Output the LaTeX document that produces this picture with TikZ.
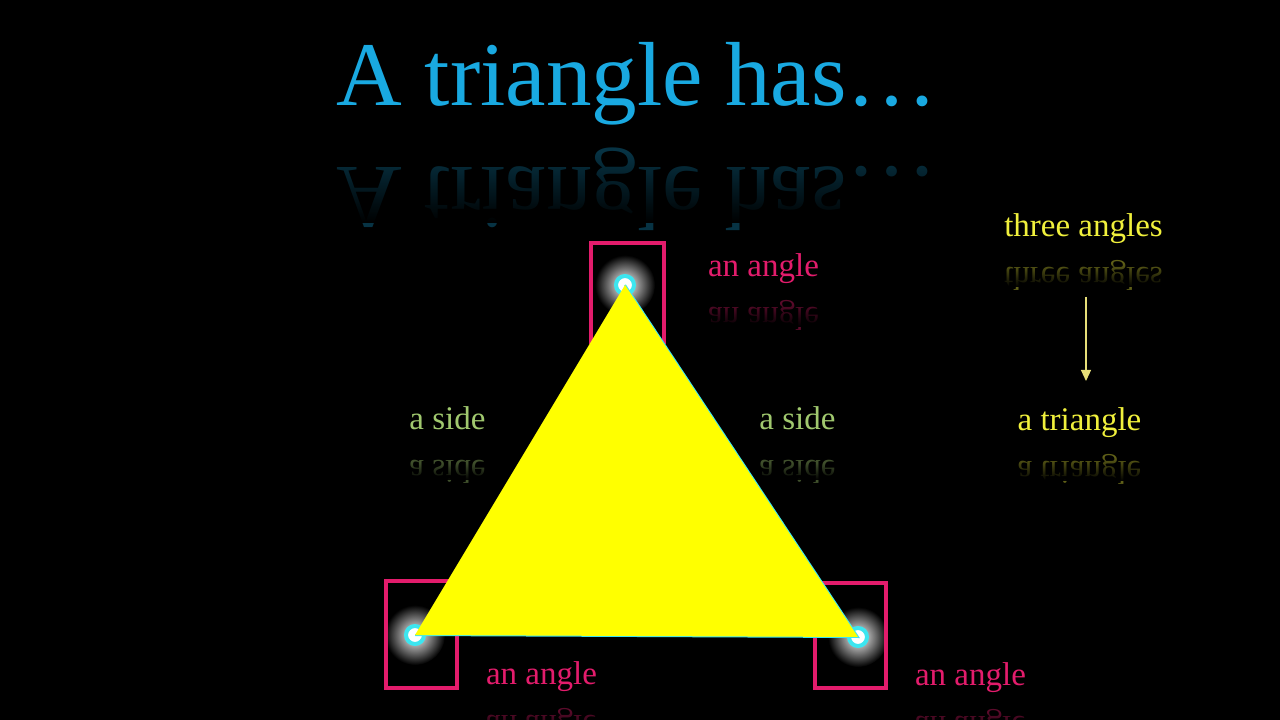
\documentclass[tikz,border=0pt]{standalone}
\usepackage{fontspec}
\setmainfont{Liberation Serif}
\usetikzlibrary{arrows.meta,calc,fadings}

\definecolor{titlecyan}{RGB}{25,169,225}
\definecolor{anglepink}{RGB}{227,28,108}
\definecolor{sidegreen}{RGB}{160,200,110}
\definecolor{wordyellow}{RGB}{240,240,60}
\definecolor{arrowyellow}{RGB}{230,222,120}
\definecolor{ringcyan}{RGB}{60,230,240}
\definecolor{fillyellow}{RGB}{255,255,0}

\tikzfading[name=reflfade, top color=transparent!100, bottom color=transparent!0]

\begin{document}
\begin{tikzpicture}
      [x = 1pt, y = 1pt,
      word/.style= {
         inner sep = 0pt,
         anchor = base,
         font = \fontsize{33}{33}\selectfont
      },
      mirror/.style= {
         word,
         yscale = -1
      },
      headline/.style= {
         inner sep = 0pt,
         anchor = base,
         font = \fontsize{91}{91}\selectfont
      },
      fadeout/.style= {
         fill = black,
         path fading = reflfade
      },
      box/.style= {
         draw = anglepink,
         line width = 4pt
      },
      dot/.style= {
         draw = ringcyan,
         fill = white,
         line width = 4pt
      },
      arrow/.style= {
         -{Triangle[width = 10pt, length = 11pt]},
         draw = arrowyellow,
         fill = wordyellow,
         line width = 1.2pt
      }]

      \useasboundingbox (0, 0) rectangle (1280, 720);
      \clip (0, 0) rectangle (1280, 720);
      \fill[black] (0, 0) rectangle (1280, 720);

      % title and its reflection
      \node[headline, text = titlecyan] (title) at (637, 614) {A triangle has\dots};
      \node[headline, yscale = -1, text = titlecyan!30!black] (titleR)
         at ($(title.base) + (0, -62)$) {A triangle has\dots};
      \fill[fadeout] ($(titleR.north west) + (0, 8)$) rectangle ($(titleR.south east) + (0, -4)$);

      % vertices
      \coordinate (vTop) at (625, 435);
      \coordinate (vLeft) at (415, 85);
      \coordinate (vRight) at (858, 83);

      \foreach \v in {vTop, vLeft, vRight}
         \shade[inner color = white, outer color = black] (\v) circle (30pt);

      \draw[box] (591, 477) rectangle (664, 378);
      \draw[box] (386, 139) rectangle (457, 32);
      \draw[box] (815, 137) rectangle (886, 32);

      \foreach \v in {vTop, vLeft, vRight}
         \draw[dot] (\v) circle (9pt);

      \draw[ringcyan, line width = 2pt] (vLeft) -- (vRight) -- (vTop);
      \fill[fillyellow] (vTop) -- (vLeft) -- (vRight) -- cycle;

      % labels
      \node[word, text = anglepink] (angTop) at (763.5, 443) {an angle};
      \node[word, text = anglepink] (angLeft) at (541.5, 35) {an angle};
      \node[word, text = anglepink] (angRight) at (970.5, 34) {an angle};
      \node[word, text = sidegreen] (sideLeft) at (447.5, 290) {a side};
      \node[word, text = sidegreen] (sideRight) at (797.5, 290) {a side};
      \node[word, text = wordyellow] (three) at (1083.5, 483) {three angles};
      \node[word, text = wordyellow] (tri) at (1079.5, 289) {a triangle};

      % reflections
      \foreach \n/\t/\c in {angTop/an angle/anglepink,
                            angLeft/an angle/anglepink,
                            angRight/an angle/anglepink,
                            sideLeft/a side/sidegreen,
                            sideRight/a side/sidegreen,
                            three/three angles/wordyellow,
                            tri/a triangle/wordyellow} {
         \node[mirror, text = \c!40!black] (\n R) at ($(\n.base) + (0, -31)$) {\t};
         \fill[fadeout] ($(\n R.north west) + (0, 4)$) rectangle ($(\n R.south east) + (0, -2)$);
      }

      \coordinate (arrS) at (1086, 423);
      \coordinate (arrE) at (1086, 339);
      \draw[arrow] (arrS) -- (arrE);

\end{tikzpicture}
\end{document}
